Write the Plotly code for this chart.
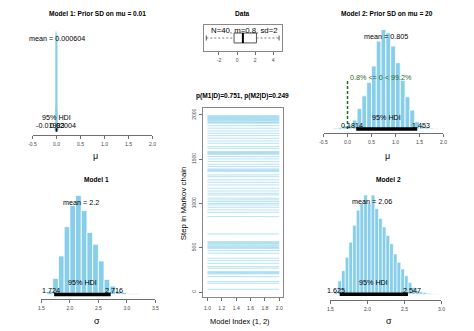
import plotly.graph_objects as go

W, H = 474, 331
FONT = "Liberation Sans, Arial, Helvetica, sans-serif"
SKY = "#87CEEB"
AXIS_COL = "#6e6e6e"
TICK_COL = "#444444"
GREEN = "#1f6b1f"

# ---- Model 1 (prior SD on mu = 0.01): posterior of mu ----
m1_mu_bin_lo = [-0.03, -0.02, -0.01, 0.00, 0.01, 0.02]
m1_mu_bin_w = 0.01
m1_mu_counts = [8, 70, 300, 290, 65, 7]
m1_mu_mean = 0.000604
m1_mu_hdi = [-0.01983, 0.02004]

# ---- Model 2 (prior SD on mu = 20): posterior of mu ----
m2_mu_bin_lo = [-0.3, -0.2, -0.1, 0.0, 0.1, 0.2, 0.3, 0.4, 0.5, 0.6, 0.7,
                0.8, 0.9, 1.0, 1.1, 1.2, 1.3, 1.4, 1.5, 1.6, 1.7, 1.8]
m2_mu_bin_w = 0.1
m2_mu_counts = [3, 5, 9, 12, 27, 62, 100, 140, 190, 265, 300,
                290, 250, 200, 147, 97, 57, 22, 12, 6, 3, 2]
m2_mu_mean = 0.805
m2_mu_hdi = [0.1814, 1.453]
comp_val = 0.0
pct_le_comp = 0.8
pct_gt_comp = 99.2

# ---- Model 1: posterior of sigma ----
m1_sigma_bin_lo = [1.6, 1.7, 1.8, 1.9, 2.0, 2.1, 2.2, 2.3, 2.4, 2.5, 2.6,
                   2.7, 2.8, 2.9, 3.0, 3.1]
m1_sigma_bin_w = 0.1
m1_sigma_counts = [10, 48, 115, 202, 265, 295, 250, 185, 150, 100, 45,
                   25, 10, 6, 3, 2]
m1_sigma_mean = 2.2
m1_sigma_hdi = [1.724, 2.716]

# ---- Model 2: posterior of sigma ----
m2_sigma_bin_lo = [1.55, 1.60, 1.65, 1.70, 1.75, 1.80, 1.85, 1.90, 1.95, 2.00,
                   2.05, 2.10, 2.15, 2.20, 2.25, 2.30, 2.35, 2.40, 2.45, 2.50,
                   2.55, 2.60, 2.65, 2.70, 2.75, 2.80, 2.85, 2.90, 2.95]
m2_sigma_bin_w = 0.05
m2_sigma_counts = [8, 40, 70, 110, 155, 205, 250, 270, 295, 270,
                   295, 255, 225, 200, 175, 150, 120, 95, 75, 55,
                   35, 20, 10, 7, 5, 3, 2, 1, 1]
m2_sigma_mean = 2.06
m2_sigma_hdi = [1.625, 2.547]

# ---- Data summary (boxplot) ----
data_n = 40
data_mean = 0.8
data_sd = 2
data_lo_whisker = -3.4
data_q1 = -0.33
data_median = 0.65
data_q3 = 2.15
data_hi_whisker = 4.65

# ---- Model-index chain: steps at which the chain jumps between models ----
p_m1 = 0.751
p_m2 = 0.249
switch_steps = [30, 98, 117, 173, 203, 212, 220, 230, 268, 286, 324, 354, 381,
                437, 467, 493, 500, 510, 520, 530, 542, 550, 560, 569, 655,
                851, 900, 927, 957, 983, 1000, 1021, 1040, 1059, 1096, 1115,
                1141, 1172, 1209, 1239, 1266, 1303, 1322, 1362, 1372, 1380,
                1390, 1416, 1443, 1473, 1503, 1529, 1556, 1562, 1571, 1578,
                1586, 1623, 1642, 1680, 1706, 1736, 1766, 1793, 1819, 1850,
                1879, 1907, 1914, 1921, 1932, 1940, 1947, 1955, 1962, 1970,
                1978, 1985, 1992]
start_model = 1


def dom_x(a, b):
    return [a / W, b / W]


def dom_y(top, bottom):
    return [1 - bottom / H, 1 - top / H]


def text_w(s, size):
    w = 0.0
    for c in s:
        if c in ".,":
            w += 0.278
        elif c == "-":
            w += 0.333
        else:
            w += 0.556
    return w * size


fig = go.Figure()
annotations = []
layout_axes = {}


def ann(x, y, text, size, xref="paper", yref="paper", **kw):
    if xref == "paper":
        x = x / W
    if yref == "paper":
        y = 1 - y / H
    d = dict(x=x, y=y, xref=xref, yref=yref, text=text, showarrow=False,
             font=dict(family=FONT, size=size, color=kw.pop("color", "black")),
             xanchor=kw.pop("xanchor", "center"), yanchor=kw.pop("yanchor", "middle"))
    d.update(kw)
    annotations.append(d)


def hist_panel(n, bin_lo, bin_w, counts, mean, hdi, xr, ticks, x_px, axis_px,
               base_px, peak_px, bar_line):
    peak = max(counts)
    k = (base_px - peak_px) / peak
    top_px = peak_px - 14
    yr = [-(axis_px - base_px) / k, (base_px - top_px) / k]
    xa = "x" if n == 1 else f"x{n}"
    ya = "y" if n == 1 else f"y{n}"
    fig.add_trace(go.Bar(
        x=[b + bin_w / 2 for b in bin_lo], y=counts, width=bin_w,
        marker=dict(color=SKY, line=dict(color="white", width=bar_line)),
        xaxis=xa, yaxis=ya, hoverinfo="skip"))
    fig.add_trace(go.Scatter(
        x=hdi, y=[0, 0], mode="lines", line=dict(color="black", width=3.5),
        xaxis=xa, yaxis=ya, hoverinfo="skip"))
    layout_axes["xaxis" if n == 1 else f"xaxis{n}"] = dict(
        domain=dom_x(*x_px), anchor=ya, range=xr, showline=True,
        linecolor=AXIS_COL, linewidth=1, ticks="outside", ticklen=3,
        tickcolor=AXIS_COL, tickwidth=1, showgrid=False, zeroline=False,
        tickvals=ticks, ticktext=[f"{t:.1f}" for t in ticks],
        tickfont=dict(family=FONT, size=5, color=TICK_COL),
        ticklabelstandoff=1)
    layout_axes["yaxis" if n == 1 else f"yaxis{n}"] = dict(
        domain=dom_y(top_px, axis_px), anchor=xa, range=yr, visible=False)
    ann(mean, 0.9 * peak, f"mean = {mean:.3g}", 7.2, xref=xa, yref=ya, yshift=3)
    ann((hdi[0] + hdi[1]) / 2, 0, "95% HDI", 7.2, xref=xa, yref=ya, yshift=12)
    lo_txt = f"{hdi[0]:.4g}"
    hi_txt = f"{hdi[1]:.4g}"
    ann(hdi[0], 0, lo_txt, 7.2, xref=xa, yref=ya, yshift=4,
        xshift=-0.2 * text_w(lo_txt, 7.2))
    ann(hdi[1], 0, hi_txt, 7.2, xref=xa, yref=ya, yshift=4,
        xshift=0.2 * text_w(hi_txt, 7.2))
    return xa, ya, peak


mu_ticks = [-0.5, 0.0, 0.5, 1.0, 1.5, 2.0]

# top-left: Model 1 mu
hist_panel(1, m1_mu_bin_lo, m1_mu_bin_w, m1_mu_counts, m1_mu_mean, m1_mu_hdi,
           [-0.5, 2.0], mu_ticks, (29, 151), 135, 130, 31.5, 0)

# top-right: Model 2 mu, with comparison value
xa3, ya3, pk3 = hist_panel(3, m2_mu_bin_lo, m2_mu_bin_w, m2_mu_counts, m2_mu_mean,
                           m2_mu_hdi, [-0.5, 2.0], mu_ticks, (325, 447), 133, 129,
                           29.5, 0.8)
fig.add_trace(go.Scatter(
    x=[comp_val, comp_val], y=[0, 0.5 * pk3], mode="lines",
    line=dict(color=GREEN, width=1.5, dash="3px,2px"),
    xaxis=xa3, yaxis=ya3, hoverinfo="skip"))
ann(comp_val, 0.5 * pk3, f"{pct_le_comp:g}% &lt;= {comp_val:g} &lt; {pct_gt_comp:g}%",
    7.2, xref=xa3, yref=ya3, xanchor="left", yshift=2, color=GREEN)

# bottom-left: Model 1 sigma
hist_panel(4, m1_sigma_bin_lo, m1_sigma_bin_w, m1_sigma_counts, m1_sigma_mean,
           m1_sigma_hdi, [1.5, 3.5], [1.5, 2.0, 2.5, 3.0, 3.5], (38, 154), 299,
           294.5, 195.5, 0.8)

# bottom-right: Model 2 sigma
hist_panel(6, m2_sigma_bin_lo, m2_sigma_bin_w, m2_sigma_counts, m2_sigma_mean,
           m2_sigma_hdi, [1.5, 3.0], [1.5, 2.0, 2.5, 3.0], (332, 445), 300,
           294.3, 195, 0.6)

# ---- Data boxplot (horizontal) ----
bw = 0.19
fig.add_trace(go.Scatter(
    x=[data_q1, data_q3, data_q3, data_q1, data_q1],
    y=[1 - bw, 1 - bw, 1 + bw, 1 + bw, 1 - bw], mode="lines",
    line=dict(color="#555555", width=1), xaxis="x2", yaxis="y2", hoverinfo="skip"))
fig.add_trace(go.Scatter(
    x=[data_median, data_median], y=[1 - bw, 1 + bw], mode="lines",
    line=dict(color="black", width=2), xaxis="x2", yaxis="y2", hoverinfo="skip"))
fig.add_trace(go.Scatter(
    x=[data_lo_whisker, data_q1, None, data_q3, data_hi_whisker],
    y=[1, 1, None, 1, 1], mode="lines",
    line=dict(color="#777777", width=1, dash="2px,2px"),
    xaxis="x2", yaxis="y2", hoverinfo="skip"))
fig.add_trace(go.Scatter(
    x=[data_lo_whisker, data_lo_whisker, None, data_hi_whisker, data_hi_whisker],
    y=[1 - bw / 2, 1 + bw / 2, None, 1 - bw / 2, 1 + bw / 2], mode="lines",
    line=dict(color="#555555", width=1), xaxis="x2", yaxis="y2", hoverinfo="skip"))
ann(data_mean, 1.29, f"N={data_n}, m={data_mean:g}, sd={data_sd:g}", 7.8,
    xref="x2", yref="y2")
layout_axes["xaxis2"] = dict(
    domain=dom_x(203, 283), anchor="y2", range=[-3.7, 5.0], showline=True,
    mirror=True, linecolor="#888888", linewidth=1, ticks="outside", ticklen=3,
    tickcolor=AXIS_COL, showgrid=False, zeroline=False, tickvals=[-2, 0, 2, 4],
    ticktext=["-2", "0", "2", "4"], tickfont=dict(family=FONT, size=5, color=TICK_COL),
    ticklabelstandoff=1)
layout_axes["yaxis2"] = dict(
    domain=dom_y(25, 51), anchor="x2", range=[0.5, 1.5], showline=True,
    mirror=True, linecolor="#888888", linewidth=1, showticklabels=False,
    ticks="", showgrid=False, zeroline=False)

# ---- Model-index chain ----
tx, ty = [], []
cur = start_model
for s in switch_steps:
    nxt = 2 if cur == 1 else 1
    tx += [cur, nxt, None]
    ty += [s, s + 1, None]
    cur = nxt
fig.add_trace(go.Scatter(
    x=tx, y=ty, mode="lines", line=dict(color="rgba(135,206,235,0.6)", width=1),
    xaxis="x5", yaxis="y5", hoverinfo="skip"))
layout_axes["xaxis5"] = dict(
    domain=dom_x(202, 284), anchor="y5", range=[0.932, 2.055], showline=True,
    mirror=True, linecolor="#888888", linewidth=1, ticks="outside", ticklen=3,
    tickcolor=AXIS_COL, showgrid=False, zeroline=False,
    tickvals=[1.0, 1.2, 1.4, 1.6, 1.8, 2.0], tickformat=".1f",
    tickfont=dict(family=FONT, size=5, color=TICK_COL), ticklabelstandoff=3)
layout_axes["yaxis5"] = dict(
    domain=dom_y(108, 297), anchor="x5", range=[-56.5, 2079], showline=True,
    mirror=True, linecolor="#888888", linewidth=1, ticks="outside", ticklen=3,
    tickcolor=AXIS_COL, showgrid=False, zeroline=False,
    tickvals=[0, 500, 1000, 1500, 2000], tickangle=-90,
    tickfont=dict(family=FONT, size=5, color=TICK_COL), ticklabelstandoff=1)

# ---- Titles and axis labels ----
for (x, y, t) in [(95, 13.5, "Model 1: Prior SD on mu = 0.01"),
                  (243, 13.5, "Data"),
                  (390, 14, "Model 2: Prior SD on mu = 20"),
                  (242.5, 96, f"p(M1|D)={p_m1:.3f}, p(M2|D)={p_m2:.3f}"),
                  (94.3, 179, "Model 1"),
                  (391, 179, "Model 2")]:
    ann(x, y, f"<b>{t}</b>", 6.6)

ann(93, 156, "\u03bc", 9)
ann(390, 156, "\u03bc", 9)
ann(95, 321, "\u03c3", 9)
ann(391.5, 320.5, "\u03c3", 9)
ann(240.5, 321, "Model Index (1, 2)", 7.4)
ann(182, 203.3, "Step in Markov chain", 7.9, textangle=-90)

fig.update_layout(
    width=W, height=H, margin=dict(l=0, r=0, t=0, b=0),
    paper_bgcolor="white", plot_bgcolor="white", showlegend=False,
    barmode="overlay", font=dict(family=FONT),
    annotations=annotations, **layout_axes)

fig.write_html("out.html")
